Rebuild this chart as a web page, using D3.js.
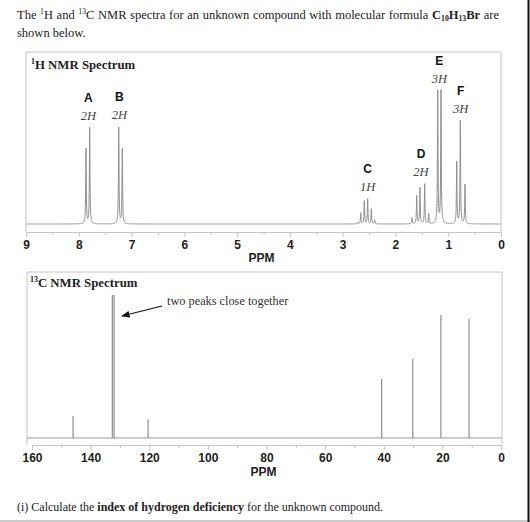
<!DOCTYPE html>
<html>
<head>
<meta charset="utf-8">
<script src="https://cdn.jsdelivr.net/npm/d3@7"></script>
<style>
  body { margin: 0; background: #fff; }
  .serif { font-family: "Liberation Serif", "Times New Roman", serif; }
  .sans { font-family: "Liberation Sans", Arial, sans-serif; }
</style>
</head>
<body>
<svg id="chart" width="530" height="522"></svg>
<script>
// 1H spectrum lines: chemical shift (ppm) and line height
var hPpm    = [7.863, 7.793, 7.243, 7.175,
               2.723, 2.658, 2.590, 2.526, 2.457, 2.393,
               1.686, 1.597, 1.535, 1.446, 1.370,
               1.199, 1.137,
               0.839, 0.771, 0.682];
var hHeight = [75, 96, 97, 75,
               1.5, 11, 23, 25, 15, 4,
               6, 28, 36, 40, 10,
               133, 133,
               62, 103, 39];

// 1H signal labels
var hLabels    = ["A", "B", "C", "D", "E", "F"];
var hLabelPpm  = [7.82, 7.23, 2.526, 1.516, 1.169, 0.764];
var hIntegrals = ["2H", "2H", "1H", "2H", "3H", "3H"];

// 13C lines
var cPpm    = [146.0, 132.6, 132.0, 120.4, 40.7, 30.1, 20.5, 10.9];
var cHeight = [22, 143, 143, 18.5, 59, 79, 123, 119];

// axis ticks
var hTicks = [9, 8, 7, 6, 5, 4, 3, 2, 1, 0];
var hMinor = [8.5, 7.5, 6.5, 5.5, 4.5, 3.5, 2.5, 1.5, 0.5];
var cTicks = [160, 140, 120, 100, 80, 60, 40, 20, 0];
var cMinor = [150, 130, 110, 90, 70, 50, 30, 10];

var svg = d3.select("#chart");
var boxColor = "#c4c4c4";

function richText(g, x, y, parts, size, cls) {
    var t = g.append("text").attr("x", x).attr("y", y)
        .attr("class", cls).attr("font-size", size).attr("fill", "#222");
    parts.forEach(function (p) {
        var s = t.append("tspan").text(p.t);
        if (p.b) s.attr("font-weight", "bold");
        if (p.sup) s.attr("font-size", size * 0.62).attr("dy", -size * 0.38);
        if (p.sub) s.attr("font-size", size * 0.62).attr("dy", size * 0.18);
        if (p.back) s.attr("dy", p.back * size);
    });
    return t;
}

// header
var head = richText(svg, 17, 19, [
    {t: "The "}, {t: "1", sup: true}, {t: "H and ", back: 0.38},
    {t: "13", sup: true}, {t: "C NMR spectra for an unknown compound with molecular formula ", back: 0.38},
    {t: "C", b: true}, {t: "10", b: true, sub: true}, {t: "H", b: true, back: -0.18},
    {t: "13", b: true, sub: true}, {t: "Br", b: true, back: -0.18}, {t: " are"}
], 12.5, "serif");
var w = head.node().getComputedTextLength();
head.attr("word-spacing", Math.max(0, (482 - w) / 14));
richText(svg, 17, 37, [{t: "shown below."}], 12.5, "serif");

// ---------- 1H panel ----------
var hx = d3.scaleLinear().domain([9, 0]).range([26, 501]);
var hy = d3.scaleLinear().domain([0, 150]).range([224, 74]);

svg.append("path")
    .attr("d", "M26,232V52H501V232")
    .attr("fill", "none").attr("stroke", boxColor);

var gamma = 0.0065;
var pts = d3.range(26, 501.01, 0.1).map(function (px) {
    var p = hx.invert(px);
    var v = 0;
    for (var i = 0; i < hPpm.length; i++) {
        var d = p - hPpm[i];
        v += hHeight[i] * gamma * gamma / (d * d + gamma * gamma);
    }
    return [p, v];
});
svg.append("path")
    .datum(pts)
    .attr("fill", "none")
    .attr("stroke", "#8f8f8f")
    .attr("stroke-width", 1)
    .attr("d", d3.line().x(function (d) { return hx(d[0]); }).y(function (d) { return hy(d[1]); }));

function drawAxis(x, y, major, minor) {
    var g = svg.append("g").attr("transform", "translate(0," + y + ")");
    g.call(d3.axisBottom(x).tickValues(major).tickSize(5).tickSizeOuter(0).tickPadding(3)
        .tickFormat(d3.format("d")));
    var m = svg.append("g").attr("transform", "translate(0," + y + ")");
    m.call(d3.axisBottom(x).tickValues(minor).tickSize(3).tickSizeOuter(0).tickFormat(""));
    m.select(".domain").remove();
    g.select(".domain").attr("stroke", boxColor);
    g.selectAll(".tick line").attr("stroke", boxColor);
    m.selectAll(".tick line").attr("stroke", boxColor);
    g.selectAll(".tick text")
        .attr("class", "sans")
        .attr("font-size", 12).attr("font-weight", "bold").attr("fill", "#222");
    g.attr("font-family", null);
    m.attr("font-family", null);
}
drawAxis(hx, 232, hTicks, hMinor);
svg.append("text").attr("class", "sans")
    .attr("x", hx(4.5) - 2).attr("y", 262)
    .attr("text-anchor", "middle").attr("font-size", 12).attr("font-weight", "bold")
    .attr("fill", "#222").text("PPM");

richText(svg, 31, 69, [{t: "1", sup: true, b: true}, {t: "H NMR Spectrum", b: true, back: 0.38}], 12.8, "serif");

// labels above signals
hLabels.forEach(function (lab, i) {
    var top = d3.max(hPpm.filter(function (p) { return Math.abs(p - hLabelPpm[i]) < 0.2; }).map(function (p) {
        return hHeight[hPpm.indexOf(p)];
    }));
    var yc = hy(top) - 12;
    svg.append("text").attr("class", "serif")
        .attr("x", hx(hLabelPpm[i])).attr("y", yc + 4)
        .attr("text-anchor", "middle").attr("font-size", 12.5).attr("font-style", "italic")
        .attr("fill", "#444").text(hIntegrals[i]);
    svg.append("text").attr("class", "sans")
        .attr("x", hx(hLabelPpm[i])).attr("y", yc - 18 + 4)
        .attr("text-anchor", "middle").attr("font-size", 12).attr("font-weight", "bold")
        .attr("fill", "#111").text(lab);
});

// ---------- 13C panel ----------
var cx = d3.scaleLinear().domain([160, 0]).range([32, 501]);
var cy = d3.scaleLinear().domain([0, 150]).range([438, 288]);

svg.append("path")
    .attr("d", "M27,445V272H502V445")
    .attr("fill", "none").attr("stroke", boxColor);
svg.append("line")
    .attr("x1", 27).attr("x2", 502).attr("y1", cy(0)).attr("y2", cy(0))
    .attr("stroke", "#9a9a9a");

svg.selectAll(".cline")
    .data(cPpm)
    .enter()
    .append("line")
    .attr("class", "cline")
    .attr("x1", function (d) { return cx(d); })
    .attr("x2", function (d) { return cx(d); })
    .attr("y1", cy(0))
    .attr("y2", function (d, i) { return cy(cHeight[i]); })
    .attr("stroke", "#858585")
    .attr("stroke-width", 1.1);

drawAxis(cx, 445, cTicks, cMinor);
svg.append("text").attr("class", "sans")
    .attr("x", cx(80) - 3).attr("y", 476)
    .attr("text-anchor", "middle").attr("font-size", 12).attr("font-weight", "bold")
    .attr("fill", "#222").text("PPM");

richText(svg, 30, 287, [{t: "13", sup: true, b: true}, {t: "C NMR Spectrum", b: true, back: 0.38}], 12.8, "serif");

// annotation arrow
svg.append("defs").append("marker")
    .attr("id", "arrow").attr("viewBox", "0 0 10 10").attr("refX", 9).attr("refY", 5)
    .attr("markerWidth", 7).attr("markerHeight", 7).attr("orient", "auto")
    .append("path").attr("d", "M0,1L10,5L0,9z").attr("fill", "#111");
svg.append("line")
    .attr("x1", 162).attr("y1", 306).attr("x2", 122).attr("y2", 316)
    .attr("stroke", "#111").attr("stroke-width", 1.2)
    .attr("marker-end", "url(#arrow)");
svg.append("text").attr("class", "serif")
    .attr("x", 167).attr("y", 305).attr("font-size", 12.3).attr("fill", "#333")
    .text("two peaks close together");

// question
richText(svg, 17, 511, [
    {t: "(i) Calculate the "}, {t: "index of hydrogen deficiency", b: true},
    {t: " for the unknown compound."}
], 12, "serif");

// page edges
svg.append("line").attr("x1", 0).attr("x2", 530).attr("y1", 521).attr("y2", 521)
    .attr("stroke", "#999");
svg.append("line").attr("x1", 528.5).attr("x2", 528.5).attr("y1", 0).attr("y2", 522)
    .attr("stroke", "#111").attr("stroke-width", 2);
</script>
</body>
</html>
